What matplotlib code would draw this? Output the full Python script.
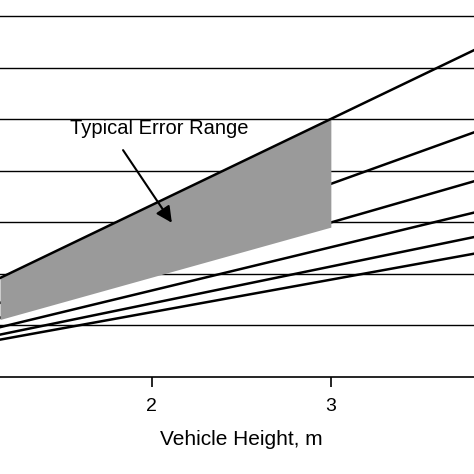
import matplotlib
matplotlib.use("Agg")
import matplotlib.pyplot as plt
import numpy as np

slopes_full = [0.84, 0.715, 0.63]      # lines drawn across whole range
slopes_right = [1.25, 1.0]              # lines visible right of the error range
slope_top = 1.67
band_low = 0.97
band_x = [1.0, 3.0]
xticks = [2, 3]

plt.rcParams['font.family'] = ['Liberation Sans', 'DejaVu Sans']
fig = plt.figure(figsize=(4.74, 4.74), dpi=100)
ax = fig.add_axes([0, 1 - 377/474, 1, 377/474])
x0, x1 = 1.151, 3.80
for g in range(1, 8):
    ax.axhline(g, color='black', lw=1.0, zorder=1)
xs = np.array([x0, x1])
ax.plot(xs, slope_top * xs, color='black', lw=1.8, zorder=4)
for k in slopes_full:
    ax.plot(xs, k * xs, color='black', lw=1.8, zorder=2)
for k in slopes_right:
    ax.plot(xs, k * xs, color='black', lw=1.8, zorder=2)
bx = np.linspace(x0, band_x[1], 50)
ax.fill_between(bx, band_low * bx, slope_top * bx, color='#9a9a9a', zorder=3, lw=0)
ax.annotate('', xy=(2.12, 2.95), xytext=(1.83, 4.45),
            arrowprops=dict(arrowstyle='-|>', color='black', lw=1.5, mutation_scale=24), zorder=5)
ax.text(2.04, 4.82, 'Typical Error Range', ha='center', va='center', fontsize=14.5, zorder=5)
for s in ['left', 'right', 'top']:
    ax.spines[s].set_visible(False)
ax.spines['bottom'].set_linewidth(1.2)
ax.set_yticks([])
ax.set_xticks(xticks)
ax.set_xlim(x0, x1)
ax.set_ylim(0, 7.32)
ax.tick_params(axis='x', direction='out', length=7, width=1.2, labelsize=14, pad=8)
ax.set_xlabel('Vehicle Height, m', fontsize=15)
ax.xaxis.set_label_coords((2.5 - x0) / (x1 - x0), -0.14)
fig.savefig('out.png', dpi=100)
